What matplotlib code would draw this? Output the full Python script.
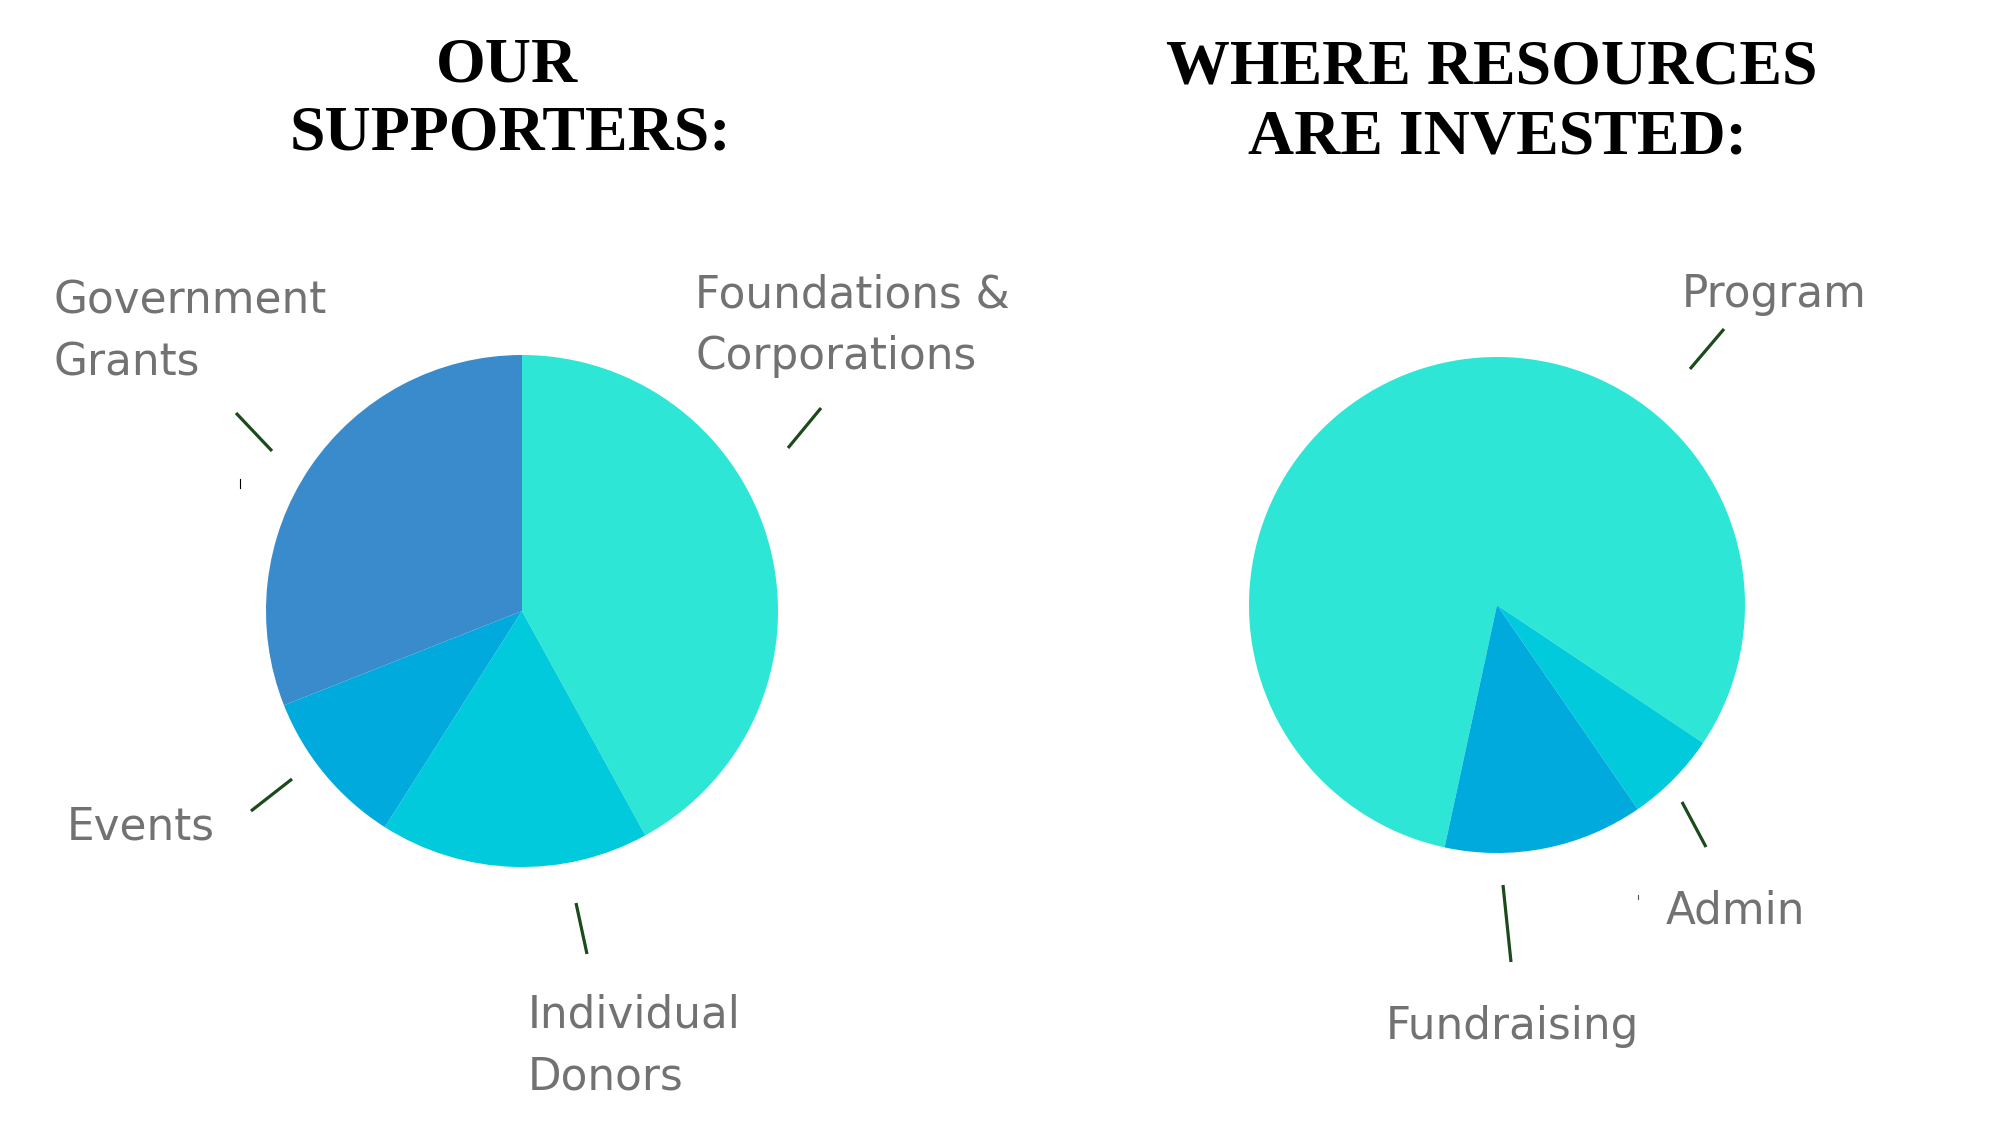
import matplotlib
matplotlib.use("Agg")
import matplotlib.pyplot as plt

# data
supporters = ["Foundations &\nCorporations", "Individual\nDonors", "Events", "Government\nGrants"]
supporters_pct = [42, 17, 10, 31]
supporters_colors = ["#2EE6D6", "#00CADC", "#00AADC", "#3A8BCC"]

resources = ["Program", "Admin", "Fundraising"]
resources_pct = [81, 6, 13]
resources_colors = ["#2EE6D6", "#00CADC", "#00AADC"]

W, H = 2000, 1125
LABEL_COLOR = "#727272"
LINE_COLOR = "#1B4A1B"

fig = plt.figure(figsize=(20, 11.25), dpi=100)
fig.patch.set_facecolor("white")


def pie_axes(cx, cy, r):
    # cx, cy, r in pixels, y measured from the top
    ax = fig.add_axes([(cx - r) / W, (H - cy - r) / H, 2 * r / W, 2 * r / H])
    ax.axis("off")
    return ax


ax1 = pie_axes(522, 611, 256)
ax1.pie(supporters_pct, colors=supporters_colors, startangle=90, counterclock=False,
        radius=1, wedgeprops=dict(linewidth=0))
ax1.set_xlim(-1, 1)
ax1.set_ylim(-1, 1)

ax2 = pie_axes(1497, 605, 248)
ax2.pie(resources_pct, colors=resources_colors, startangle=-102.2, counterclock=False,
        radius=1, wedgeprops=dict(linewidth=0))
ax2.set_xlim(-1, 1)
ax2.set_ylim(-1, 1)

# overlay for titles, labels and leader lines (pixel coords)
ov = fig.add_axes([0, 0, 1, 1])
ov.set_xlim(0, W)
ov.set_ylim(H, 0)
ov.axis("off")
ov.patch.set_alpha(0)

title_kw = dict(family="Liberation Serif", fontweight="bold", fontsize=46,
                color="black", ha="center", va="baseline")
ov.text(507, 82, "OUR", **title_kw)
ov.text(510, 149, "SUPPORTERS:", **title_kw)
ov.text(1492, 84, "WHERE RESOURCES", **title_kw)
ov.text(1497, 153, "ARE INVESTED:", **title_kw)

# label layout: (x, first baseline) per label, lines 62 px apart
label_pos = {
    "Foundations &\nCorporations": (695, 307),
    "Individual\nDonors": (528, 1028),
    "Events": (67, 840),
    "Government\nGrants": (54, 314),
    "Program": (1682, 307),
    "Admin": (1666, 924),
    "Fundraising": (1386, 1039),
}
for lab in supporters + resources:
    x, y = label_pos[lab]
    for i, line in enumerate(lab.split("\n")):
        ov.text(x, y + i * 62, line, family="DejaVu Sans", fontsize=31.5,
                color=LABEL_COLOR, ha="left", va="baseline")

# short leader strokes
leaders = {
    "Government\nGrants": ((236, 413), (272, 451)),
    "Foundations &\nCorporations": ((821, 408), (788, 448)),
    "Events": ((292, 779), (251, 811)),
    "Individual\nDonors": ((576, 903), (587, 954)),
    "Program": ((1724, 329), (1690, 369)),
    "Admin": ((1682, 802), (1706, 847)),
    "Fundraising": ((1503, 885), (1511, 962)),
}
for lab, (p0, p1) in leaders.items():
    ov.plot([p0[0], p1[0]], [p0[1], p1[1]], color=LINE_COLOR, lw=2.3,
            solid_capstyle="butt")

# tiny stray ticks seen in the original
ov.plot([240, 240], [479, 488], color="black", lw=0.8)
ov.plot([1638, 1638], [895, 899], color="#555555", lw=0.8)

fig.savefig("out.png", dpi=100, facecolor="white")
